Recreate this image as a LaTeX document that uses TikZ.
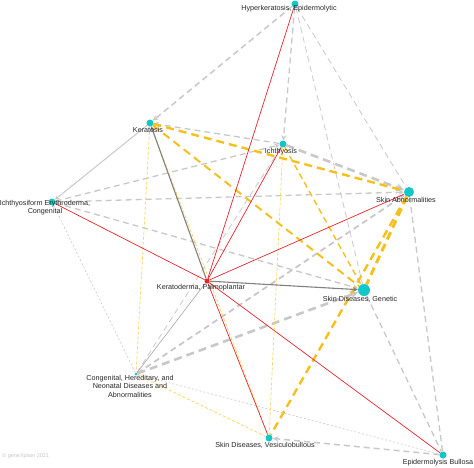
\documentclass[tikz,border=0pt]{standalone}
\usepackage{fontspec}
\setmainfont{Liberation Sans}
\usetikzlibrary{backgrounds}

\definecolor{termcyan}{RGB}{16,200,200}
\definecolor{linkred}{RGB}{232,36,44}
\definecolor{linkgray}{RGB}{200,200,200}
\definecolor{arrgray}{RGB}{128,128,128}
\definecolor{linkyellow}{RGB}{245,192,30}
\definecolor{softyellow}{RGB}{250,212,90}

\begin{document}
\begin{tikzpicture}[x=1pt, y=-1pt,
    term/.style={circle, fill=termcyan, inner sep=0pt, minimum size=7pt},
    hub/.style={term, minimum size=11pt},
    seed/.style={circle, fill=linkred, inner sep=0pt, minimum size=5pt},
    lbl/.style={anchor=north, inner sep=0pt, align=center, font=\fontsize{7.2}{8.4}\selectfont, text=black!85},
    red_link/.style={linkred, line width=0.7pt},
    seed_arr/.style={-stealth, arrgray, line width=1.1pt},
    isa/.style={-stealth, linkgray, line width=1.3pt, dash pattern=on 6pt off 4pt},
    isa_thick/.style={isa, line width=2.6pt, dash pattern=on 8pt off 5pt},
    isa_thin/.style={linkgray, line width=0.6pt, dash pattern=on 2pt off 2pt},
    co_thick/.style={linkyellow, line width=2.4pt, dash pattern=on 8pt off 5pt},
    co/.style={linkyellow, line width=1.4pt, dash pattern=on 6pt off 4pt},
    co_thin/.style={softyellow, line width=0.7pt, dash pattern=on 3pt off 2pt}
]
    \useasboundingbox (0,0) rectangle (474,467);

    % Terms (pixel coordinates of the layout)
    \node[term] (he) at (295,4) {};
    \node[term] (ker) at (150,123) {};
    \node[term] (ich) at (283,144) {};
    \node[term] (iec) at (52,202) {};
    \node[hub, minimum size=10pt] (sab) at (409,192) {};
    \node[seed] (kp) at (207,281) {};
    \node[hub, minimum size=12pt] (sdg) at (364,290) {};
    \node[term, minimum size=3pt] (chn) at (136,374) {};
    \node[term] (sdv) at (269,438) {};
    \node[term] (eb) at (443,455) {};

    % Labels
    \node[lbl] (he-t) at (289,5) {Hyperkeratosis, Epidermolytic};
    \node[lbl] (ker-t) at (148,127) {Keratosis};
    \node[lbl] (ich-t) at (281,148) {Ichthyosis};
    \node[lbl] (iec-t) at (45,200) {Ichthyosiform Erythroderma,\\Congenital};
    \node[lbl] (sab-t) at (406,197) {Skin Abnormalities};
    \node[lbl] (kp-t) at (201,284) {Keratoderma, Palmoplantar};
    \node[lbl] (sdg-t) at (360,296) {Skin Diseases, Genetic};
    \node[lbl] (chn-t) at (130,375) {Congenital, Hereditary, and\\Neonatal Diseases and\\Abnormalities};
    \node[lbl] (sdv-t) at (265,442) {Skin Diseases, Vesiculobullous};
    \node[lbl] (eb-t) at (438,459) {Epidermolysis Bullosa};
    \node[anchor=west, inner sep=0pt, text=black!22, font=\fontsize{5.5}{6}\selectfont] (mark) at (2,456) {© geneXplain 2021};

    \begin{scope}[on background layer]
        % Hierarchy links
        \draw[isa_thin] (iec) -- (chn);
        \draw[isa_thin] (chn) -- (eb);
        \draw[isa, line width=0.8pt, -] (he) -- (sab);
        \draw[isa, line width=0.8pt, -] (he) -- (sdg);
        \draw[isa, line width=0.8pt] (chn) -- (ich);
        \draw[isa, line width=1.5pt] (he) -- (ker);
        \draw[isa] (he) -- (ich);
        \draw[isa] (ich) -- (ker);
        \draw[-stealth, linkgray, line width=1pt] (ker) -- (iec);
        \draw[isa] (iec) -- (ich);
        \draw[isa] (iec) -- (sab);
        \draw[isa] (iec) -- (sdg);
        \draw[isa, line width=1.8pt] (chn) -- (sab);
        \draw[isa_thick] (chn) -- (sdg);
        \draw[isa_thick] (ich) -- (sab);
        \draw[isa, -] (sab) -- (eb);
        \draw[isa, -] (sdg) -- (eb);
        \draw[isa, line width=1.5pt] (eb) -- (sdv);

        % Shared links
        \draw[co_thin] (ker) -- (chn);
        \draw[co_thin] (ker) -- (sdv);
        \draw[co_thin] (ich) -- (sdv);
        \draw[co_thin] (chn) -- (sdv);
        \draw[co] (ich) -- (sdg);
        \draw[co_thick] (ker) -- (sab);
        \draw[co_thick, line width=2pt] (ker) -- (sdg);
        \draw[co_thick, line width=3pt] (sab) -- (sdg);
        \draw[co_thick] (sab) -- (sdv);

        % Seed links
        \draw[arrgray!70, line width=0.6pt] (kp) -- (chn);
        \draw[seed_arr] (kp) -- (ker);
        \draw[seed_arr] (kp) -- (sdg);
        \draw[red_link] (kp) -- (he);
        \draw[red_link] (kp) -- (ich);
        \draw[red_link] (kp) -- (iec);
        \draw[red_link] (kp) -- (sab);
        \draw[red_link] (kp) -- (sdv);
        \draw[red_link] (kp) -- (eb);
    \end{scope}
\end{tikzpicture}
\end{document}
